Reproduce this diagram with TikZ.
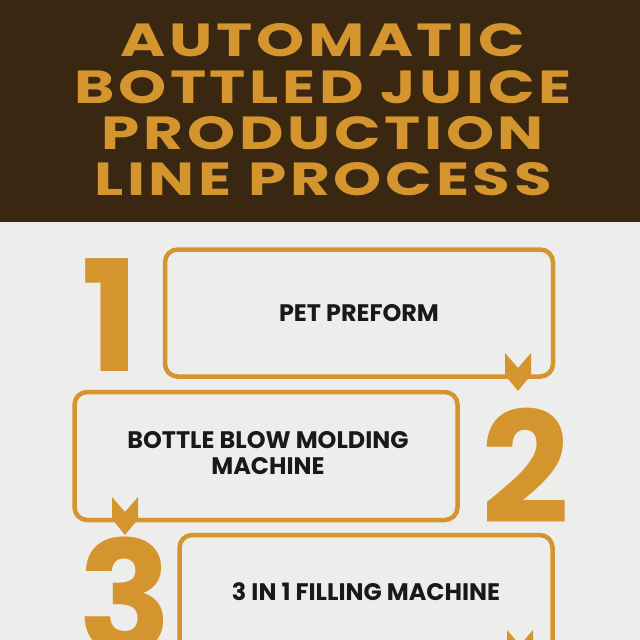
\documentclass[tikz,border=0pt]{standalone}
\usepackage{fontspec}
\setmainfont{Poppins}
\newfontfamily\titlefont[LetterSpace=6]{Poppins}
\usetikzlibrary{positioning,calc}
\definecolor{brownbg}{HTML}{3A2712}
\definecolor{gold}{HTML}{D4952E}
\definecolor{paper}{HTML}{EDEDEC}
\tikzset{
  stepbox/.style={draw=gold, line width=3.2pt, rounded corners=9pt, inner sep=0pt},
  steptext/.style={font=\bfseries\fontsize{17}{19}\selectfont, align=center, text=black!90},
  digit/.style={font=\bfseries\fontsize{110}{110}\selectfont, text=gold, inner sep=0pt},
  chevron/.style={fill=gold}
}
\newcommand{\chev}[1]{\fill[chevron] ($(#1)+(-13,-20)$) -- ($(#1)+(0,-5)$) -- ($(#1)+(13,-20)$) -- ($(#1)+(13,2)$) -- ($(#1)+(0,18)$) -- ($(#1)+(-13,2)$) -- cycle;}
\begin{document}
\begin{tikzpicture}[x=0.025cm,y=-0.025cm]
\useasboundingbox (0,0) rectangle (640,640);
\fill[paper] (0,0) rectangle (640,640);
\fill[brownbg] (0,0) rectangle (640,222);
\node[font=\titlefont\bfseries\fontsize{33}{33}\selectfont, text=gold, align=center, xscale=1.32, transform shape] (title) at (323,110)
  {AUTOMATIC\\BOTTLED JUICE\\PRODUCTION\\LINE PROCESS};
% steps
\node[stepbox, minimum width=388*0.025cm, minimum height=127*0.025cm] (box1) at (359,313) {};
\node[steptext] (t1) at (box1) {PET PREFORM};
\node[stepbox, minimum width=383*0.025cm, minimum height=128*0.025cm] (box2) at (266,456) {};
\node[steptext] (t2) at (268,453) {BOTTLE BLOW MOLDING\\MACHINE};
\node[stepbox, minimum width=373*0.025cm, minimum height=140*0.025cm] (box3) at (366,605) {};
\node[steptext] (t3) at (366,592) {3 IN 1 FILLING MACHINE};
% numbers
\node[digit] (n1) at (111,315) {1};
\node[digit] (n2) at (526,466) {2};
\node[digit] (n3) at (125,595) {3};
% arrows
\coordinate (a1) at (518,373);
\coordinate (a2) at (125,517);
\coordinate (a3) at (520,650);
\chev{a1}
\chev{a2}
\chev{a3}
\end{tikzpicture}
\end{document}
